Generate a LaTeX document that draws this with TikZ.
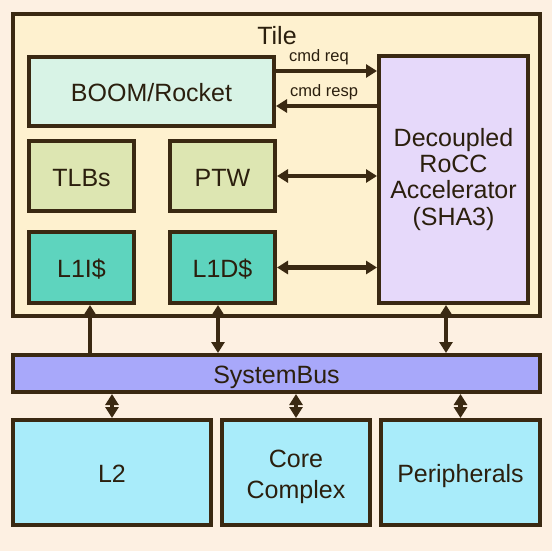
\documentclass[tikz,border=0pt]{standalone}
\usepackage{fontspec}
\setmainfont{Liberation Sans}
\usetikzlibrary{positioning,arrows.meta}
\definecolor{pagebg}{HTML}{FDF0E2}
\definecolor{tilebg}{HTML}{FEF1CF}
\definecolor{edge}{HTML}{3A2912}
\definecolor{ink}{HTML}{2B1F0E}
\definecolor{boombg}{HTML}{D8F3E6}
\definecolor{tlbbg}{HTML}{DDE6B2}
\definecolor{cachebg}{HTML}{5ED4BE}
\definecolor{accbg}{HTML}{E6D9FA}
\definecolor{busbg}{HTML}{A8A8FA}
\definecolor{socbg}{HTML}{A9ECFA}
\tikzset{
  block/.style   = {shape=rectangle, draw=edge, line width=4.2pt,
                    align=center, inner sep=0pt, text=ink,
                    font=\fontsize{25}{31}\selectfont,
                    execute at begin node={\rule{0pt}{26pt}},
                    execute at end node={\rule[-5.5pt]{0pt}{0pt}}},
  tilebox/.style = {block, fill=tilebg},
  cpubox/.style  = {block, fill=boombg},
  mmubox/.style  = {block, fill=tlbbg},
  l1box/.style   = {block, fill=cachebg},
  accbox/.style  = {block, fill=accbg, font=\fontsize{25}{26.2}\selectfont},
  busbox/.style  = {block, fill=busbg},
  socbox/.style  = {block, fill=socbg},
  cmdtext/.style = {text=ink, inner sep=0pt, font=\fontsize{16.5}{20}\selectfont}
}

\begin{document}
\begin{tikzpicture}
  [
    x = 1pt, y = -1pt,
    link/.style = {draw=edge, line width=4.2pt, {Triangle[length=11pt, width=13pt]}-{Triangle[length=11pt, width=13pt]}},
    uplink/.style = {draw=edge, line width=4.2pt, -{Triangle[length=11pt, width=13pt]}}
  ]
  \fill[pagebg] (0,0) rectangle (552,551);
  % tile and its parts
  \node [tilebox, minimum width=526.8pt, minimum height=301.8pt] (tile) at (276.5,165) {};
  \node [text=ink, font=\fontsize{25}{30}\selectfont] (tilename) at (277,36) {Tile};
  \node [cpubox, minimum width=244.8pt, minimum height=68.8pt] (boom) at (151.5,91.5) {BOOM/Rocket};
  \node [mmubox, minimum width=104.8pt, minimum height=69.8pt] (tlbs) at (81.5,176) {TLBs};
  \node [mmubox, minimum width=104.8pt, minimum height=69.8pt] (ptw) [right=32pt of tlbs] {PTW};
  \node [l1box, minimum width=104.8pt, minimum height=70.8pt] (l1i) at (81.5,267.5) {L1I\$};
  \node [l1box, minimum width=104.8pt, minimum height=70.8pt] (l1d) [right=32pt of l1i] {L1D\$};
  \node [accbox, minimum width=148.8pt, minimum height=246.8pt] (acc) at (453.5,179.5)
        {Decoupled\\RoCC\\Accelerator\\(SHA3)};
  % bus and the rest of the chip
  \node [busbox, minimum width=526.8pt, minimum height=36.8pt] (bus) at (276.5,373.5) {SystemBus};
  \node [socbox, minimum width=197.8pt, minimum height=104.8pt] (l2) at (112,472.5) {L2};
  \node [socbox, minimum width=147.8pt, minimum height=104.8pt] (cplx) at (296,472.5)
        {\rule{0pt}{27pt}Core\\Complex};
  \node [socbox, minimum width=158.8pt, minimum height=104.8pt] (peri) at (460.5,472.5) {Peripherals};
  % rocc links
  \draw [uplink] ([yshift=20.5pt]boom.east) -- ([yshift=20.5pt]boom.east -| acc.west)
        node [cmdtext, pos=0, anchor=south west, xshift=11pt, yshift=3.5pt] {cmd req};
  \draw [uplink] ([yshift=-14.5pt]boom.east -| acc.west) -- ([yshift=-14.5pt]boom.east)
        node [cmdtext, pos=1, anchor=south west, xshift=12pt, yshift=3.5pt] {cmd resp};
  \draw [link] (ptw.east) -- (ptw.east -| acc.west);
  \draw [link] (l1d.east) -- (l1d.east -| acc.west);
  % bus links
  \draw [uplink] ([xshift=8.5pt]l1i.south |- bus.north) -- ([xshift=8.5pt]l1i.south);
  \draw [link] ([xshift=-4.5pt]l1d.south) -- ([xshift=-4.5pt]l1d.south |- bus.north);
  \draw [link] ([xshift=-7.5pt]acc.south) -- ([xshift=-7.5pt]acc.south |- bus.north);
  \draw [link] (bus.south -| l2.north) -- (l2.north);
  \draw [link] (bus.south -| cplx.north) -- (cplx.north);
  \draw [link] (bus.south -| peri.north) -- (peri.north);
\end{tikzpicture}
\end{document}
